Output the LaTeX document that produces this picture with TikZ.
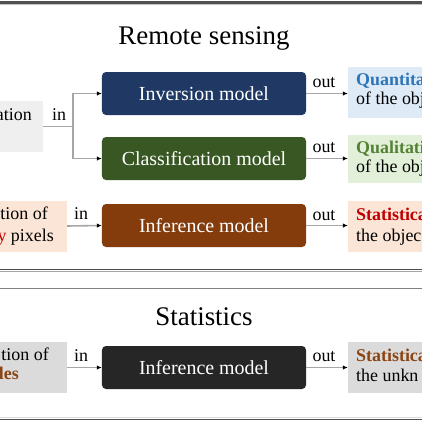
\documentclass[tikz,border=0pt]{standalone}
\usepackage{fontspec}
\setmainfont{Liberation Serif}
\usetikzlibrary{arrows.meta}
\definecolor{navy}{HTML}{1F3864}
\definecolor{dgreen}{HTML}{385723}
\definecolor{dbrown}{HTML}{843C0C}
\definecolor{dblack}{HTML}{262626}
\definecolor{lblue}{HTML}{DEEBF7}
\definecolor{lgreen}{HTML}{E2F0D9}
\definecolor{lpeach}{HTML}{FBE5D6}
\definecolor{lgray}{HTML}{EFEFEF}
\definecolor{mgray}{HTML}{DBDBDB}
\definecolor{tblue}{HTML}{2E75B6}
\definecolor{tgreen}{HTML}{548235}
\definecolor{tred}{HTML}{C00000}
\definecolor{tbrown}{HTML}{8B4513}
\definecolor{linegray}{HTML}{A6A6A6}
\definecolor{ruledark}{HTML}{505050}
\begin{document}
\begin{tikzpicture}[x=1bp,y=-1bp,
  model/.style={rounded corners=4bp, minimum width=204bp, minimum height=43bp, text=white, font=\fontsize{20}{22}\selectfont, inner sep=0},
  sidebox/.style={minimum height=51bp, inner sep=0},
  lbl/.style={font=\fontsize{18}{20}\selectfont, inner sep=0},
  txt/.style={font=\fontsize{18}{20}\selectfont, inner sep=0},
  title/.style={font=\fontsize{27}{30}\selectfont, inner sep=0},
  conn/.style={draw=linegray, line width=1.6bp},
  arr/.style={conn, -{Latex[length=5bp,width=4.5bp,color=black]}},
]
\useasboundingbox (0,0) rectangle (422,422);
\clip (0,0) rectangle (422,422);

% rules
\draw[ruledark, line width=2.4bp] (0,2.5) -- (422,2.5);
\draw[linegray!70, line width=1bp] (0,4.5) -- (422,4.5);
\draw[ruledark, line width=1.5bp] (0,269.5) -- (422,269.5);
\draw[linegray, line width=1.3bp] (0,271.3) -- (422,271.3);
\draw[gray, line width=1bp] (0,288.5) -- (422,288.5);
\draw[mgray, line width=1.5bp] (0,417.5) -- (422,417.5);
\draw[ruledark, line width=1.6bp] (0,419.5) -- (422,419.5);

% titles
\node[title, anchor=base] (t1) at (204,44) {Remote sensing};
\node[title, anchor=base] (t2) at (204,325) {Statistics};

% models
\node[model, fill=navy] (inv) at (204,93.5) {Inversion model};
\node[model, fill=dgreen] (cls) at (204,158.5) {Classification model};
\node[model, fill=dbrown] (inf) at (204,225.5) {Inference model};
\node[model, fill=dblack] (sinf) at (204,367.5) {Inference model};

% left boxes
\node[sidebox, fill=lgray, minimum width=86bp] (l1) at (0,126.5) {};
\node[sidebox, fill=lpeach, minimum width=134bp] (l2) at (0,226) {};
\node[sidebox, fill=mgray, minimum width=134bp] (l3) at (0,367.5) {};
\node[txt, anchor=base east] (l1a) at (32,120) {ation};
\node[txt, anchor=base east] (l2a) at (48,219.5) {tion of};
\node[txt, anchor=base east] (l2b) at (54,241.5) {{\color{tred}y} pixels};
\node[txt, anchor=base east] (l3a) at (49,360.5) {tion of};
\node[txt, anchor=base east] (l3b) at (19,379) {\textbf{\color{tbrown}les}};

% right boxes
\node[sidebox, fill=lblue, minimum width=148bp] (r1) at (422,92.5) {};
\node[sidebox, fill=lgreen, minimum width=148bp, minimum height=48bp] (r2) at (422,159) {};
\node[sidebox, fill=lpeach, minimum width=148bp] (r3) at (422,226) {};
\node[sidebox, fill=mgray, minimum width=148bp] (r4) at (422,367.5) {};
\node[txt, anchor=base west] (r1a) at (356,85.5) {\textbf{\color{tblue}Quantita}};
\node[txt, anchor=base west] (r1b) at (356,104) {of the obj};
\node[txt, anchor=base west] (r2a) at (356,153) {\textbf{\color{tgreen}Qualitati}};
\node[txt, anchor=base west] (r2b) at (356,172) {of the obj};
\node[txt, anchor=base west] (r3a) at (356,220) {\textbf{\color{tred}Statistica}};
\node[txt, anchor=base west] (r3b) at (356,241.5) {the objec};
\node[txt, anchor=base west] (r4a) at (356,361.5) {\textbf{\color{tbrown}Statistica}};
\node[txt, anchor=base west] (r4b) at (356,381) {the unkn};

% connectors
\coordinate (br) at (73,126.5);
\draw[conn] (l1.east) -- (br);
\draw[arr] (br) |- (inv.west);
\draw[arr] (br) |- (cls.west);
\draw[arr] (l2.east) -- (inf.west);
\draw[arr] (l3.east) -- (sinf.west);
\draw[arr] (inv.east) -- (inv.east -| r1.west);
\draw[arr] (cls.east) -- (cls.east -| r2.west);
\draw[arr] (inf.east) -- (inf.east -| r3.west);
\draw[arr] (sinf.east) -- (sinf.east -| r4.west);

% labels
\node[lbl, anchor=base] (i1) at (59,120) {in};
\node[lbl, anchor=base] (i2) at (81,219) {in};
\node[lbl, anchor=base] (i3) at (81,361) {in};
\node[lbl, anchor=base] (o1) at (324,87) {out};
\node[lbl, anchor=base] (o2) at (324,152) {out};
\node[lbl, anchor=base] (o3) at (324,220) {out};
\node[lbl, anchor=base] (o4) at (324,361) {out};
\end{tikzpicture}
\end{document}
